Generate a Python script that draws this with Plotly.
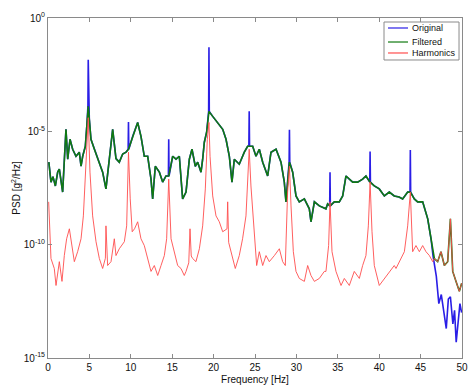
import plotly.graph_objects as go

# ---------------- data (log10 of PSD) ----------------
series_names = ["Original", "Filtered", "Harmonics"]

filtered_f = [0.1, 0.36, 0.6, 0.89, 1.17, 1.37, 1.77, 1.97, 2.17, 2.38, 2.66, 2.98, 3.38, 3.78, 3.99,
              4.19, 4.51, 4.7, 4.86, 4.99, 5.19, 5.6, 6.2, 6.6, 7.0, 7.4, 7.81, 8.21, 8.61, 9.02, 9.42,
              9.72, 10.23, 10.83, 11.23, 11.63, 12.04, 12.44, 12.64, 12.96, 13.45, 13.85, 14.25, 14.58,
              15.06, 15.46, 15.86, 16.26, 16.67, 17.07, 17.39, 17.79, 18.08, 18.48, 18.68, 18.88, 19.16,
              19.44, 19.89, 20.49, 21.1, 21.5, 21.9, 22.22, 22.5, 23.1, 23.71, 24.11, 24.3, 24.72, 25.12,
              25.52, 25.93, 26.53, 26.93, 27.54, 28.14, 28.54, 28.74, 29.16, 29.55, 29.95, 30.35, 30.96,
              31.56, 31.76, 32.17, 32.77, 33.57, 33.77, 34.06, 34.58, 35.18, 35.59, 35.99, 36.39, 36.8,
              37.4, 38.0, 38.4, 38.9, 39.41, 40.01, 40.62, 41.22, 41.82, 42.4, 42.83, 43.44, 43.76, 44.24,
              44.64, 45.25, 45.86, 46.26, 46.66, 47.06, 47.46, 47.87, 48.27, 48.6, 48.88, 49.28, 49.68, 49.96]
filtered_log = [-6.36, -7.24, -7.0, -7.41, -6.80, -6.67, -7.68, -6.23, -4.91, -6.23, -5.35, -5.79, -6.10, -5.92, -6.54,
                -6.10, -5.66, -4.7, -3.9, -4.47, -5.35, -5.79, -6.36, -6.80, -7.54, -6.36, -4.91, -6.2, -6.36, -6.0, -5.92,
                -5.79, -5.22, -4.61, -5.22, -6.10, -6.10, -7.11, -7.98, -6.54, -6.80, -7.24, -6.97, -6.97,
                -6.10, -6.23, -6.10, -7.98, -7.68, -6.23, -5.79, -6.54, -6.36, -6.80, -6.23, -5.48, -5.04,
                -4.12, -4.34, -4.61, -4.91, -5.35, -6.10, -7.24, -6.23, -6.45, -5.92, -5.66, -5.66, -5.66, -6.10,
                -5.79, -6.36, -6.97, -5.92, -5.79, -6.36, -7.24, -8.11, -6.36, -6.80, -7.85, -8.11, -7.98,
                -8.42, -8.99, -8.11, -8.29, -8.42, -8.2, -8.29, -8.11, -8.11, -7.85, -6.97, -7.11, -7.24,
                -7.24, -7.11, -6.97, -7.24, -7.41, -7.54, -7.85, -7.68, -7.85, -7.9, -7.98, -7.68, -7.68, -7.98,
                -8.11, -8.11, -8.86, -9.74, -10.61, -10.75, -10.31, -10.92, -10.75, -8.86, -11.18, -11.62, -12.06, -11.7]

# Original: harmonic peaks (on top of the filtered curve) and its own tail above ~46 Hz
peak_f = [4.86, 9.72, 14.58, 19.44, 24.3, 29.16, 34.06, 38.9, 43.76]
original_peak_log = [-1.84, -4.59, -5.35, -1.29, -4.11, -4.93, -6.81, -5.89, -5.82]
original_tail_f = [46.5, 46.9, 47.2, 47.5, 47.75, 48.1, 48.35, 48.6, 48.9, 49.1, 49.3, 49.55, 49.75, 49.95]
original_tail_log = [-10.5, -11.4, -12.6, -12.2, -12.9, -13.7, -12.4, -12.3, -13.5, -12.9, -14.3, -13.2, -12.6, -13.0]

harmonics_f = [0.08, 0.36, 0.76, 0.97, 1.37, 1.69, 1.97, 2.25, 2.58, 2.9, 3.18, 3.58, 3.99, 4.27, 4.59, 4.86,
               5.07, 5.39, 5.8, 6.2, 6.6, 6.93, 7.0, 7.2, 7.61, 8.01, 8.21, 8.61, 9.22, 9.5, 9.72, 9.93,
               10.17, 10.45, 10.83, 11.23, 11.63, 12.04, 12.44, 12.84, 13.25, 13.65, 14.05, 14.33, 14.58,
               14.86, 15.26, 15.66, 16.06, 16.46, 16.67, 17.0, 17.15, 17.3, 17.47, 17.87, 18.28, 18.68,
               19.0, 19.24, 19.44, 19.57, 19.89, 20.29, 20.69, 21.1, 21.62, 21.7, 21.82, 22.1, 22.62,
               23.1, 23.5, 23.91, 24.19, 24.3, 24.51, 24.92, 25.2, 25.52, 25.93, 26.33, 26.73, 27.34,
               27.94, 28.34, 28.66, 28.94, 29.16, 29.35, 29.63, 29.95, 30.35, 30.96, 31.36, 31.76, 32.17,
               32.77, 33.37, 33.57, 33.89, 34.06, 34.3, 34.78, 35.39, 35.79, 36.39, 36.99, 37.6, 38.0,
               38.4, 38.69, 38.9, 39.13, 39.41, 40.01, 40.62, 41.22, 41.82, 42.03, 42.63, 43.04, 43.44,
               43.76, 44.04, 44.44, 44.85, 45.25, 45.65, 46.06, 46.46, 46.66, 47.06, 47.46, 47.87, 48.27,
               48.6, 48.88, 49.28, 49.68, 49.96]
harmonics_log = [-8.11, -10.61, -11.05, -11.80, -10.75, -11.62, -10.48, -9.74, -9.30, -10.04, -10.75, -10.31, -9.74, -8.73, -6.54, -4.4,
                 -6.80, -8.73, -9.87, -10.61, -11.05, -10.6, -9.17, -10.92, -10.75, -9.74, -10.48, -10.18, -9.87, -9.17, -5.92, -7.98,
                 -9.43, -9.30, -8.99, -9.74, -10.04, -10.61, -11.18, -10.92, -11.36, -10.92, -10.48, -9.74, -7.11,
                 -9.74, -10.31, -10.92, -11.05, -11.36, -11.18, -10.8, -9.30, -10.5, -10.61, -10.75, -10.18, -9.17,
                 -7.54, -5.35, -4.61, -6.10, -7.85, -8.73, -8.99, -9.43, -9.3, -8.11, -9.9, -10.31, -11.05,
                 -10.48, -9.74, -8.73, -6.80, -5.79, -7.41, -9.6, -10.92, -10.31, -10.92, -10.48, -10.75, -10.48,
                 -10.18, -10.75, -10.92, -7.68, -6.54, -8.29, -10.31, -11.18, -11.49, -11.62, -10.92, -11.36, -11.62,
                 -11.49, -11.18, -11.18, -10.04, -8.11, -10.31, -11.18, -11.80, -11.49, -11.80, -11.18, -11.49, -10.92,
                 -10.48, -9.17, -7.24, -9.43, -10.92, -11.80, -11.49, -11.18, -10.92, -11.05, -10.61, -10.31, -9.17,
                 -7.68, -10.31, -10.04, -10.31, -10.04, -10.31, -10.48, -10.75, -10.61, -10.75, -10.31, -10.92, -10.75,
                 -8.86, -11.18, -11.62, -12.06, -11.7]

x_ticks = [0, 5, 10, 15, 20, 25, 30, 35, 40, 45, 50]
y_tick_vals = [1e-15, 1e-10, 1e-5, 1e0]
y_tick_text = ["10<sup>-15</sup>", "10<sup>-10</sup>", "10<sup>-5</sup>", "10<sup>0</sup>"]

# ---------------- build the original series ----------------
filt_map = dict(zip(filtered_f, filtered_log))
pts = [(f, v) for f, v in zip(filtered_f, filtered_log) if f < 46.3 and f not in peak_f]
for f, p in zip(peak_f, original_peak_log):
    g = filt_map[f]
    pts += [(f - 0.04, g), (f, p), (f + 0.04, g)]
pts += list(zip(original_tail_f, original_tail_log))
pts.sort()
orig_f = [p[0] for p in pts]
orig_v = [10 ** p[1] for p in pts]

colors = ["#2a1ee6", "#107a10", "#ff4d4d"]
widths = [1.6, 1.6, 0.9]

fig = go.Figure()
fig.add_trace(go.Scatter(x=orig_f, y=orig_v, mode="lines", name=series_names[0],
                         line=dict(color=colors[0], width=widths[0])))
fig.add_trace(go.Scatter(x=filtered_f, y=[10 ** v for v in filtered_log], mode="lines", name=series_names[1],
                         line=dict(color=colors[1], width=widths[1])))
fig.add_trace(go.Scatter(x=harmonics_f, y=[10 ** v for v in harmonics_log], mode="lines", name=series_names[2],
                         line=dict(color=colors[2], width=widths[2])))

axis_common = dict(showline=True, linecolor="#8a8a8a", linewidth=1, mirror="ticks", ticks="inside",
                   ticklen=4, tickcolor="#8a8a8a", showgrid=False, zeroline=False, automargin=False,
                   ticklabeloverflow="allow", tickfont=dict(size=10, color="#111"))
fig.update_xaxes(range=[0, 50], tickvals=x_ticks, **axis_common,
                 title=dict(text="Frequency [Hz]", standoff=3, font=dict(size=10, color="#111")))
fig.update_yaxes(type="log", range=[-15, 0], tickvals=y_tick_vals, ticktext=y_tick_text, **axis_common,
                 title=dict(text="PSD [g<sup>2</sup>/Hz]", standoff=1, font=dict(size=10, color="#111")))

# ---- compact MATLAB-style legend drawn in the plot area ----
box = dict(x0=0.8116, x1=0.9928, y0=0.8765, y1=0.9882)
row_y = [0.9706, 0.9294, 0.8971]
fig.add_shape(type="rect", xref="paper", yref="paper", **box,
              line=dict(color="#8a8a8a", width=1), fillcolor="white", layer="above")
for name, c, ry in zip(series_names, colors, row_y):
    fig.add_shape(type="line", xref="paper", yref="paper", x0=0.8213, x1=0.8696, y0=ry, y1=ry,
                  line=dict(color=c, width=1.2), layer="above")
    fig.add_annotation(xref="paper", yref="paper", x=0.8744, y=ry, text=name, showarrow=False,
                       xanchor="left", yanchor="middle", font=dict(size=9, color="#111"))

fig.update_layout(
    width=474, height=388,
    margin=dict(l=48, r=12, t=18, b=30),
    paper_bgcolor="white", plot_bgcolor="white",
    font=dict(family="Liberation Sans, Arial, sans-serif", size=10, color="#111"),
    showlegend=False,
)

fig.write_html("out.html", config={"displayModeBar": False},
               post_script="document.body.style.margin='0';document.body.style.overflow='hidden';")
